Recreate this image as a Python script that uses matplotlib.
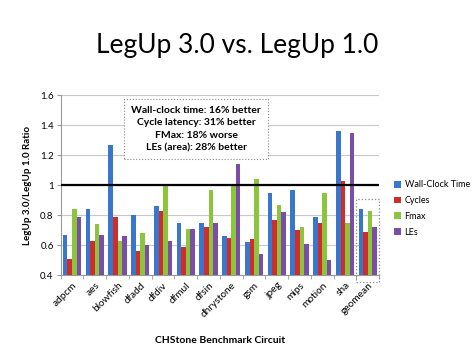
import numpy as np
import matplotlib.pyplot as plt
from matplotlib.patches import Rectangle

plt.rcParams["font.family"] = ["Lato", "DejaVu Sans"]

# ---------- Data ----------
benchmarks = ["adpcm", "aes", "blowfish", "dfadd", "dfdiv", "dfmul", "dfsin",
              "dhrystone", "gsm", "jpeg", "mips", "motion", "sha", "geomean"]

wall_clock = [0.67, 0.84, 1.27, 0.80, 0.86, 0.75, 0.75, 0.66, 0.62, 0.95, 0.97, 0.79, 1.36, 0.84]
cycles     = [0.51, 0.63, 0.79, 0.56, 0.83, 0.59, 0.72, 0.65, 0.64, 0.77, 0.70, 0.75, 1.03, 0.69]
fmax       = [0.84, 0.74, 0.63, 0.68, 1.00, 0.71, 0.97, 1.00, 1.04, 0.87, 0.72, 0.95, 0.75, 0.83]
les        = [0.79, 0.67, 0.66, 0.60, 0.63, 0.71, 0.75, 1.14, 0.54, 0.82, 0.61, 0.50, 1.35, 0.72]

series_names = ["Wall-Clock Time", "Cycles", "Fmax", "LEs"]
series_vals = [wall_clock, cycles, fmax, les]
colors = ["#3a76cc", "#cf2d2b", "#8cc43c", "#7a4ea6"]

summary = ["Wall-clock time: 16% better",
           "Cycle latency: 31% better",
           "FMax: 18% worse",
           "LEs (area): 28% better"]

# ---------- Plot ----------
fig = plt.figure(figsize=(4.74, 3.55), dpi=100)
ax = fig.add_axes([0.128, 0.225, 0.672, 0.507])

x = np.arange(len(benchmarks))
w = 0.2
for k, (name, vals) in enumerate(zip(series_names, series_vals)):
    ax.bar(x + (k - 1.5) * w, np.array(vals) - 0.4, w, bottom=0.4,
           color=colors[k], label=name, zorder=3)

ax.set_ylim(0.4, 1.6)
ax.set_xlim(-0.5, len(benchmarks) - 0.5)
ax.set_yticks([0.4, 0.6, 0.8, 1.0, 1.2, 1.4, 1.6])
ax.set_yticklabels(["0.4", "0.6", "0.8", "1", "1.2", "1.4", "1.6"], fontsize=7)
ax.yaxis.grid(True, color="#c8c8c8", lw=0.8, zorder=0)
ax.axhline(1.0, color="black", lw=1.6, zorder=4)

ax.set_xticks(x)
ax.set_xticklabels(benchmarks, rotation=45, ha="right", rotation_mode="anchor", fontsize=7.3)
ax.set_xticks(np.arange(-0.5, len(benchmarks)), minor=True)
ax.tick_params(axis="x", which="major", length=0, pad=4)
ax.tick_params(axis="x", which="minor", length=3, color="#999999")
ax.tick_params(axis="y", length=3, color="#999999", pad=2)

for s in ["top", "right"]:
    ax.spines[s].set_visible(False)
ax.spines["left"].set_color("#999999")
ax.spines["bottom"].set_color("#999999")

ax.set_ylabel("LegUp 3.0/LegUp 1.0 Ratio", fontsize=7, fontweight="bold", labelpad=6)
ax.set_xlabel("CHStone Benchmark Circuit", fontsize=7.5, fontweight="bold", labelpad=12)

# summary text box
ax.text(5.45, 1.375, "\n".join(summary), ha="center", va="center",
        fontsize=7.5, fontweight="bold", linespacing=1.5, zorder=6,
        bbox=dict(boxstyle="square,pad=0.65", fc="white", ec="#888888", ls=":", lw=0.8))

# dashed box around geomean
gm = len(benchmarks) - 1
box = Rectangle((gm - 0.5, 0.355), 1.0, 0.555, fill=False, ec="#888888", ls=":", lw=0.9,
                clip_on=False, zorder=6)
ax.add_patch(box)

fig.text(0.5, 0.873, "LegUp 3.0 vs. LegUp 1.0", ha="center", va="center", fontsize=19)

ax.legend(loc="center left", bbox_to_anchor=(1.02, 0.37), frameon=False, fontsize=6.5,
          handlelength=0.8, handleheight=0.8, handletextpad=0.4, labelspacing=0.75)

fig.savefig("out.png", dpi=100)
